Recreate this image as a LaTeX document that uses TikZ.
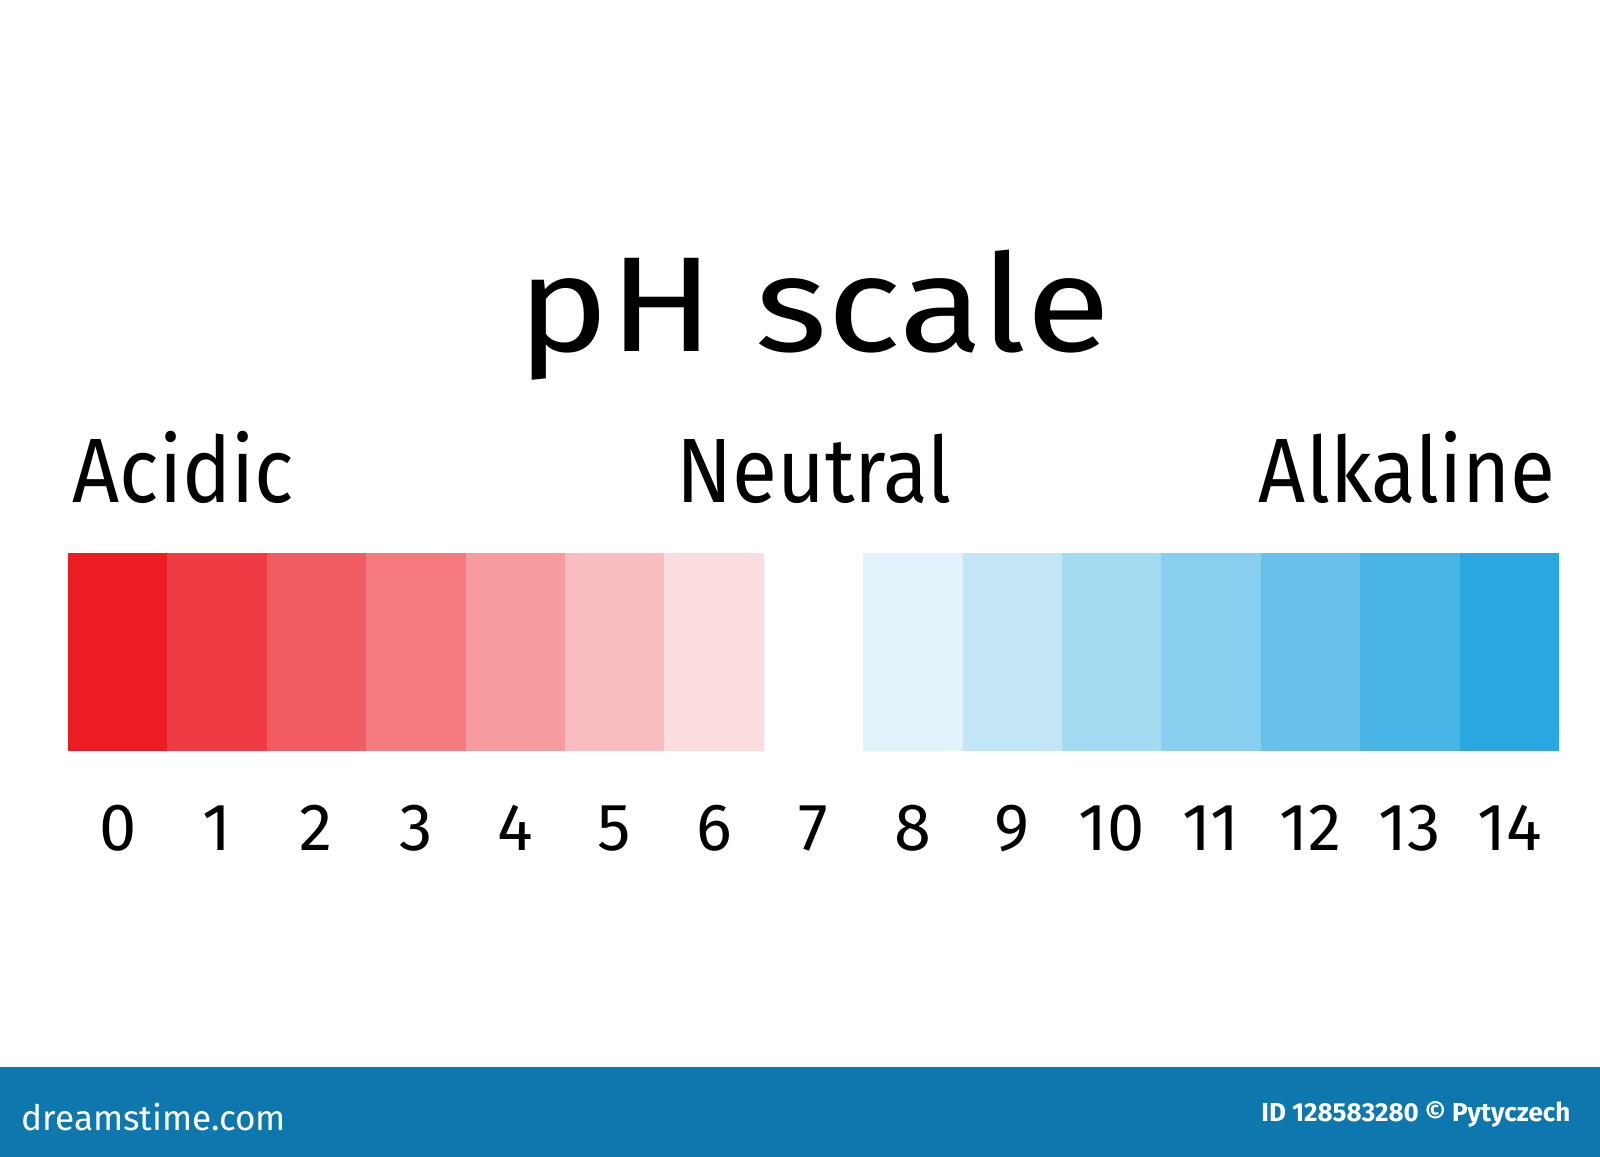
\documentclass[tikz,border=0pt]{standalone}
\usepackage{fontspec}
\setmainfont{Fira Sans}
\usepackage{tikz}
\usetikzlibrary{positioning,calc}
\definecolor{ph0}{HTML}{ED1C24}
\definecolor{ph1}{HTML}{EF3B43}
\definecolor{ph2}{HTML}{F15B62}
\definecolor{ph3}{HTML}{F47A80}
\definecolor{ph4}{HTML}{F69BA0}
\definecolor{ph5}{HTML}{F9BCBF}
\definecolor{ph6}{HTML}{FCDDDF}
\definecolor{ph7}{HTML}{FFFFFF}
\definecolor{ph8}{HTML}{E1F2FB}
\definecolor{ph9}{HTML}{C3E6F7}
\definecolor{ph10}{HTML}{A5DAF3}
\definecolor{ph11}{HTML}{87CEEF}
\definecolor{ph12}{HTML}{68C1EA}
\definecolor{ph13}{HTML}{49B5E6}
\definecolor{ph14}{HTML}{29A8E0}
\definecolor{footerblue}{HTML}{0E78AE}
\tikzset{
  cell/.style={rectangle, inner sep=0pt, outer sep=0pt, minimum width=9.96mm, minimum height=19.8mm},
  txt/.style={anchor=base, inner sep=0pt},
  title/.style={txt, font=\fontsize{38.5}{42}\selectfont},
  region/.style={txt, font=\fontsize{26}{30}\selectfont},
  num/.style={txt, font=\fontsize{19}{22}\selectfont},
  credit/.style={txt, text=white, font=\bfseries\fontsize{7.4}{9}\selectfont},
}

\begin{document}
\begin{tikzpicture}[x=0.1mm, y=-0.1mm]
  \useasboundingbox (0,0) rectangle (1600,1157);
  \node[title] (head) at (814,352) {\scalebox{1.14}[1]{pH scale}};
  \node[region, anchor=base west] (acid) at (72,503) {\scalebox{0.9}[1]{Acidic}};
  \node[region] (neut) at (814,503) {\scalebox{0.9}[1]{Neutral}};
  \node[region, anchor=base east] (alk) at (1556,503) {\scalebox{0.9}[1]{Alkaline}};
  % colour cells and their pH values
  \foreach \i in {0,...,14} {
    \node[cell, fill=ph\i] (c\i) at ({68+99.4*(\i+0.5)},652) {};
    \node[num] (n\i) at ({68+99.4*(\i+0.5)},850) {\i};
  }
  % footer band
  \fill[footerblue] (0,1067) rectangle (1600,1157);
  \node[credit, anchor=base west, font=\fontsize{10}{12}\selectfont] (site) at (21,1130) {dreamstime.com};
  \node[credit, anchor=base east] (id) at (1571,1121) {ID 128583280 © Pytyczech};
\end{tikzpicture}
\end{document}
